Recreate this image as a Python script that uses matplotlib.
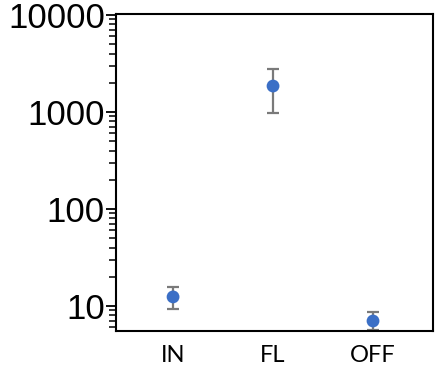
import numpy as np
import matplotlib.pyplot as plt
from matplotlib.ticker import LogLocator, FixedLocator, NullFormatter

categories = ["IN", "FL", "OFF"]
means = [12.4, 1850, 7.0]
upper = [15.7, 2770, 8.7]
lower = [9.3, 977, 5.7]

x = np.arange(len(categories))
means = np.array(means)
err = np.array([means - np.array(lower), np.array(upper) - means])

fig = plt.figure(figsize=(4.38, 3.77), dpi=100)
ax = fig.add_axes([0.265, 0.122, 0.7236, 0.841])

ax.errorbar(x, means, yerr=err, fmt="none", ecolor="#7a7a7a", elinewidth=1.6,
            capsize=4, capthick=1.6, zorder=2)
ax.scatter(x, means, s=85, color="#3b6fc6", edgecolors="none", zorder=3)

ax.set_yscale("log")
ax.set_ylim(5.52, 10240)
ax.set_xlim(-0.57, 2.6)

ax.yaxis.set_major_locator(FixedLocator([10, 100, 1000, 10000]))
ax.yaxis.set_minor_locator(LogLocator(base=10, subs=np.arange(2, 10)))
ax.yaxis.set_minor_formatter(NullFormatter())
ax.set_yticklabels(["10", "100", "1000", "10000"], fontsize=25,
                   family="Liberation Sans")
ax.tick_params(axis="y", which="major", length=7, width=1.3, pad=1)
ax.tick_params(axis="y", which="minor", length=5, width=1.1)

ax.set_xticks(x)
ax.set_xticklabels(categories, fontsize=17, family="Lato")
ax.tick_params(axis="x", length=0, pad=10)

for s in ax.spines.values():
    s.set_linewidth(1.5)

fig.savefig("out.png", dpi=100)
